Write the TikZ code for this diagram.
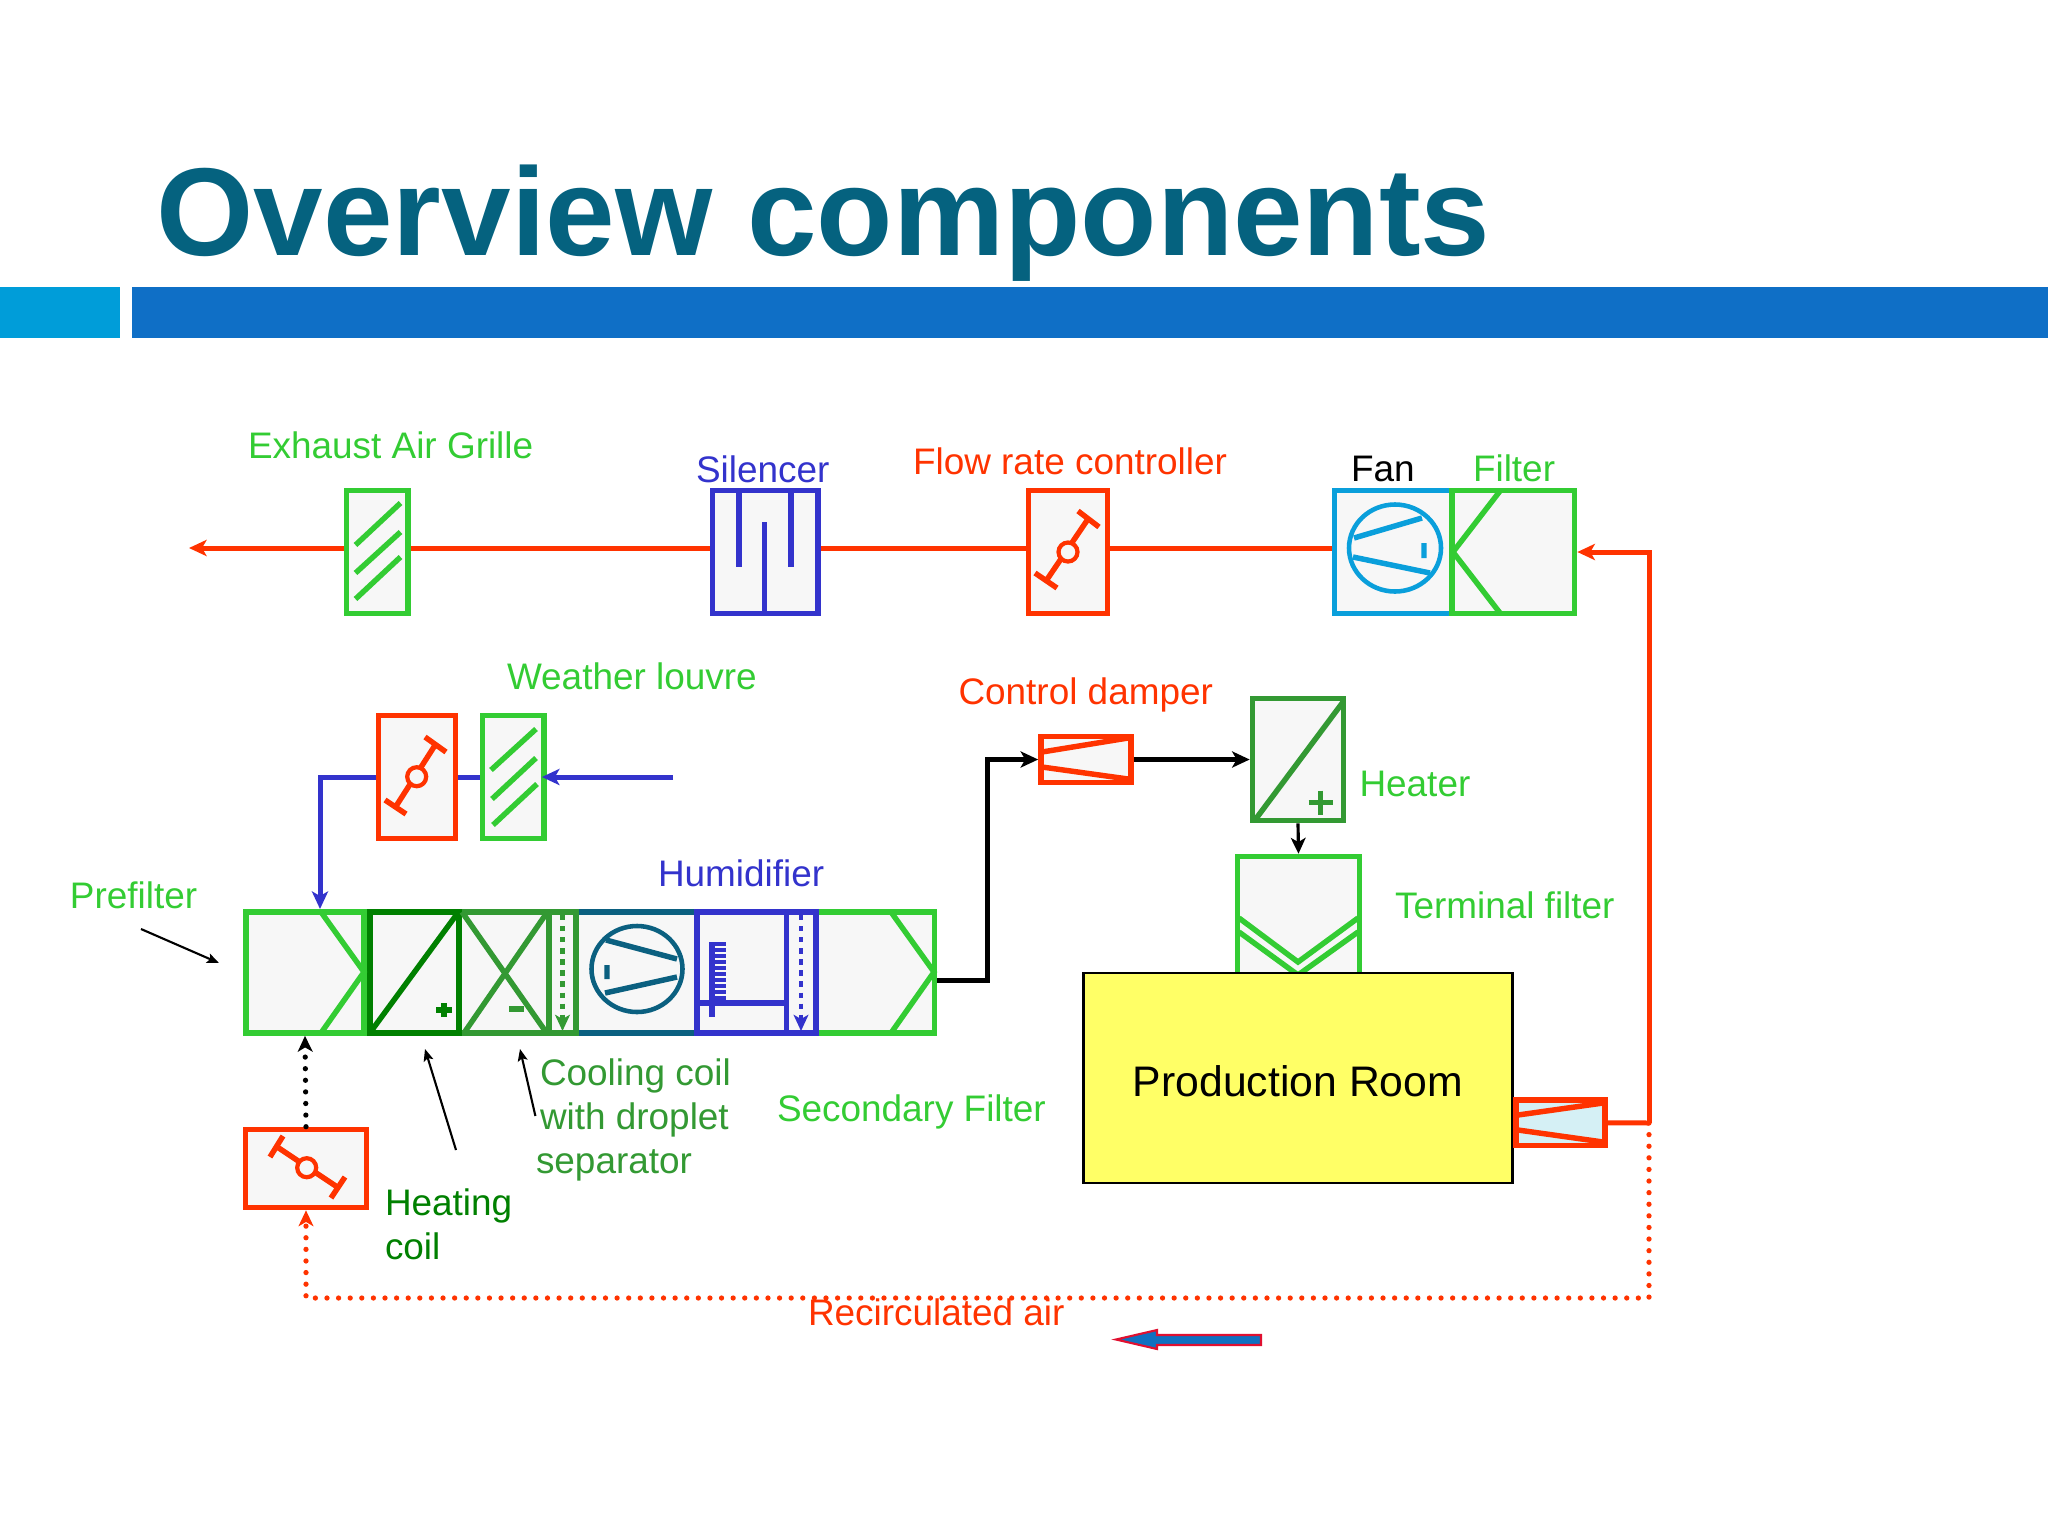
\documentclass[tikz,border=0pt]{standalone}
\usepackage{fontspec}
\setmainfont{Liberation Sans}
\usetikzlibrary{arrows.meta}

\definecolor{titleteal}{HTML}{05627F}
\definecolor{barcyan}{HTML}{009DD9}
\definecolor{barblue}{HTML}{0F6FC6}
\definecolor{fangreen}{HTML}{33CC33}
\definecolor{coolgreen}{HTML}{339933}
\definecolor{heatgreen}{HTML}{008000}
\definecolor{ductred}{HTML}{FF3300}
\definecolor{ductblue}{HTML}{3333CC}
\definecolor{fanteal}{HTML}{0B6080}
\definecolor{fancyan}{HTML}{0A9FDB}
\definecolor{boxgrey}{HTML}{F7F7F7}
\definecolor{roomyellow}{HTML}{FFFF66}
\definecolor{outletcyan}{HTML}{D5F0F5}
\definecolor{legendred}{HTML}{E01030}
\definecolor{legendblue}{HTML}{1070C0}

\tikzset{
    unitbox/.style n args={3}{draw=#1, fill=boxgrey, line width=1.6pt, inner sep=0pt,
        minimum width=#2*0.01cm, minimum height=#3*0.01cm},
    symline/.style={line width=1.55pt},
    duct/.style={line width=1.42pt, -{Stealth[length=5pt, width=4.6pt, inset=1.3pt]}},
    ductplain/.style={line width=1.42pt},
    thinduct/.style={line width=0.9pt, -{Stealth[length=4.5pt, width=4.2pt, inset=1.2pt]}},
    pointer/.style={line width=0.6pt, black, -{Stealth[length=3.4pt, width=2.8pt, inset=0.7pt]}},
    dots/.style={line width=1.5pt, line cap=round, dash pattern=on 0pt off 3.3pt},
    tipdots/.style={dots, -{Stealth[length=4.5pt, width=4.2pt, inset=1.2pt]}},
    sqdots/.style={line width=1.3pt, dash pattern=on 1.5pt off 1.65pt, -{Stealth[length=4.6pt, width=4.2pt, inset=1.2pt]}},
    lbl/.style={font=\fontsize{10.5}{12}\selectfont, anchor=base west, inner sep=0pt, outer sep=0pt}
}

\newcommand{\flapsym}[7]{
    \draw[symline, ductred] (#1) -- (#2) (#3) -- (#4) (#5) -- (#6);
    \draw[line width=1.2pt, ductred, fill=boxgrey] (#7) circle (9.5);
}

\begin{document}
\begin{tikzpicture}[x=0.01cm, y=-0.01cm]
    \useasboundingbox (0,0) rectangle (2048,1536);

    \node[font=\bfseries\fontsize{35.55}{40}\selectfont, text=titleteal, anchor=base west, inner sep=0pt] (title) at (156,255) {Overview components};
    \fill[barcyan] (0,287) rectangle (120,338);
    \fill[barblue] (132,287) rectangle (2048,338);

    \coordinate (topline) at (0,548);
    \coordinate (exhaustend) at (189,548);
    \coordinate (louvreend) at (673,777);
    \coordinate (prefilterin) at (320,909);
    \coordinate (secondaryout) at (937,980);
    \coordinate (riser) at (987,759.5);
    \coordinate (junction) at (1649,1123);
    \coordinate (recirccorner) at (1649,1298);

    \node[unitbox={fangreen}{61.5}{123}] (grille) at (377.25,552) {};
    \node[unitbox={ductblue}{105.5}{123}] (silencer) at (765.25,552) {};
    \node[unitbox={ductred}{79}{123}] (flowctrl) at (1068,552) {};
    \node[unitbox={fancyan}{117.5}{123}] (exhaustfan) at (1393.25,552) {};
    \node[unitbox={fangreen}{122.5}{123}] (exhaustfilter) at (1513.25,552) {};

    \draw[duct, ductred] (grille.west |- topline) -- (exhaustend);
    \draw[ductplain, ductred] (grille.east |- topline) -- (silencer.west |- topline);
    \draw[ductplain, ductred] (silencer.east |- topline) -- (flowctrl.west |- topline);
    \draw[ductplain, ductred] (flowctrl.east |- topline) -- (exhaustfan.west |- topline);

    \foreach \ya/\yb in {545/503, 573/532, 599/557}
        \draw[symline, fangreen] (355.5,\ya) -- (400.5,\yb);
    \draw[symline, ductblue] (739,490) -- (739,567) (791,490) -- (791,567) (764.5,522) -- (764.5,613);
    \flapsym{1078,511}{1099,527}{1035,573}{1057,588}{1088,519}{1046,581}{1068,552}

    \draw[line width=1.3pt, fancyan] (1395,548) ellipse (46 and 43.5);
    \draw[symline, fancyan] (1354,538) -- (1422,518) (1353,557) -- (1430,573) (1424,543) -- (1424,558);
    \draw[symline, fangreen] (1500,491) -- (1453,552) -- (1500,613);

    \node[unitbox={ductred}{77}{123}] (airdamper) at (417,777) {};
    \node[unitbox={fangreen}{61.5}{123}] (louvre) at (513.25,777) {};
    \flapsym{425,737}{446,752}{385,800}{406,814}{435.5,744.5}{395.5,807}{416.7,776.7}
    \foreach \xa/\ya/\xb/\yb in {491/770/536/729, 492/799/536/758, 493/825/537/784}
        \draw[symline, fangreen] (\xa,\ya) -- (\xb,\yb);
    \draw[ductplain, ductblue] (airdamper.east) -- (louvre.west);
    \draw[duct, ductblue] (louvreend) -- ([xshift=-1.4pt]louvre.east);
    \draw[duct, ductblue] (airdamper.west) -| (prefilterin);

    \node[unitbox={fangreen}{118}{121}] (prefilter) at (305,972.5) {};
    \node[unitbox={fangreen}{118.5}{121}] (secondary) at (875.25,972.5) {};
    \node[unitbox={fanteal}{121}{121}] (supplyfan) at (636.5,972.5) {};
    \node[unitbox={coolgreen}{90}{121}] (coolcoil) at (504,972.5) {};
    \node[unitbox={coolgreen}{27}{121}] (dropsep) at (562.5,972.5) {};
    \node[unitbox={heatgreen}{89}{121}] (heatcoil) at (414.5,972.5) {};
    \node[unitbox={ductblue}{89.5}{121}] (humidifier) at (741.75,972.5) {};
    \node[unitbox={ductblue}{29.5}{121}] (humidsep) at (801.25,972.5) {};

    \draw[symline, fangreen] (321,912) -- (364,972) -- (321,1033);
    \draw[symline, heatgreen] (372,1030) -- (457,914);
    \draw[line width=1.5pt, heatgreen] (436,1010) -- (452,1010) (444,1003) -- (444,1017);
    \draw[symline, coolgreen] (462,912) -- (546,1032) (464,1033) -- (546,914);
    \draw[line width=1.5pt, coolgreen] (509,1009) -- (524,1009);
    \draw[sqdots, coolgreen] (562.5,915) -- (562.5,1031);
    \draw[line width=1.3pt, fanteal] (637,969) ellipse (45.5 and 43);
    \draw[symline, fanteal] (606,940) -- (677,959) (605,993) -- (677,977) (607,965) -- (607,979);
    \draw[symline, ductblue] (712,942) -- (712,1017) (697,1003) -- (786,1003);
    \foreach \y in {944,950,...,998}
        \draw[line width=0.9pt, ductblue] (712,\y) -- (726,\y);
    \draw[sqdots, ductblue] (801,915) -- (801,1031);
    \draw[symline, fangreen] (891,912) -- (934,972) -- (891,1033);

    \node[unitbox={ductred}{121}{78}] (bypass) at (306,1168.5) {};
    \flapsym{283,1136}{270,1157}{345,1177}{331,1198}{276.5,1146.5}{338,1187.5}{306.7,1167.7}
    \draw[tipdots, black] (bypass.north) -- (prefilter.south);

    \node[unitbox={ductred}{90}{46}] (ctrldamper) at (1086,759.5) {};
    \draw[symline, ductred] (1042,752) -- (1128,738) (1042,767) -- (1128,779);
    \node[unitbox={coolgreen}{91}{122}] (heater) at (1298,759.5) {};
    \draw[symline, coolgreen] (1255,820) -- (1343,702);
    \draw[line width=1.4pt, coolgreen] (1308.5,802.7) -- (1333,802.7) (1320.7,790.5) -- (1320.7,815);
    \node[unitbox={fangreen}{122}{118.5}] (terminal) at (1298.5,915.75) {};
    \draw[symline, fangreen] (1239,918) -- (1298,962) -- (1358,918) (1239,932) -- (1298,975) -- (1358,932);

    \draw[duct, black] (secondaryout) -| (riser) -- (ctrldamper.west);
    \draw[duct, black] (ctrldamper.east) -- (heater.west);
    \draw[thinduct, black] (heater.south) -- (terminal.north);

    \node[draw=black, fill=roomyellow, line width=0.75pt, inner sep=0pt, minimum width=429.5*0.01cm, minimum height=210*0.01cm,
        text height=10.4pt, text depth=0pt, font=\fontsize{12.15}{14}\selectfont] (room) at (1298,1078) {Production Room};

    \node[unitbox={ductred}{89}{45.5}, fill=outletcyan] (outdamper) at (1560.5,1122.75) {};
    \draw[symline, ductred] (1518,1115) -- (1603,1103) (1518,1130) -- (1603,1142);

    \draw[ductplain, ductred] (outdamper.east) -- (junction);
    \draw[duct, ductred] (junction) |- (exhaustfilter.east);
    \draw[tipdots, ductred] (junction) -- (recirccorner) -| (bypass.south);

    \draw[pointer] (141,929) -- (219,963);
    \draw[pointer] (456,1150) -- (425,1049);
    \draw[pointer] (535.4,1116) -- (520,1049);

    \draw[legendred, fill=legendblue, line width=0.6pt] (1261,1335) -- (1157,1335) -- (1157,1330) -- (1116,1339.5) -- (1157,1349) -- (1157,1345) -- (1261,1345) -- cycle;

    \node[lbl, text=fangreen] (grillelabel) at (248,458.7) {Exhaust Air Grille};
    \node[lbl, text=ductblue] (silencerlabel) at (696,482) {Silencer};
    \node[lbl, text=ductred] (flowlabel) at (913,474.3) {Flow rate controller};
    \node[lbl, text=black] (fanlabel) at (1351,481.3) {Fan};
    \node[lbl, text=fangreen] (filterlabel) at (1473,481.3) {Filter};
    \node[lbl, text=fangreen] (louvrelabel) at (507,689) {Weather louvre};
    \node[lbl, text=ductred] (damperlabel) at (958.5,704) {Control damper};
    \node[lbl, text=fangreen] (heaterlabel) at (1359.5,796.7) {Heater};
    \node[lbl, text=fangreen] (terminallabel) at (1395,918.7) {Terminal filter};
    \node[lbl, text=ductblue] (humidlabel) at (658,886.7) {Humidifier};
    \node[lbl, text=fangreen] (prefilterlabel) at (70,908) {Prefilter};
    \node[lbl, text=coolgreen] (coollabela) at (540,1085.7) {Cooling coil};
    \node[lbl, text=coolgreen] (coollabelb) at (540,1129.7) {with droplet};
    \node[lbl, text=coolgreen] (coollabelc) at (536,1173) {separator};
    \node[lbl, text=fangreen] (secondarylabel) at (777,1121) {Secondary Filter};
    \node[lbl, text=heatgreen] (heatlabela) at (385,1215) {Heating};
    \node[lbl, text=heatgreen] (heatlabelb) at (385,1259) {coil};
    \node[lbl, text=ductred] (recirclabel) at (808,1325) {Recirculated air};
\end{tikzpicture}
\end{document}
